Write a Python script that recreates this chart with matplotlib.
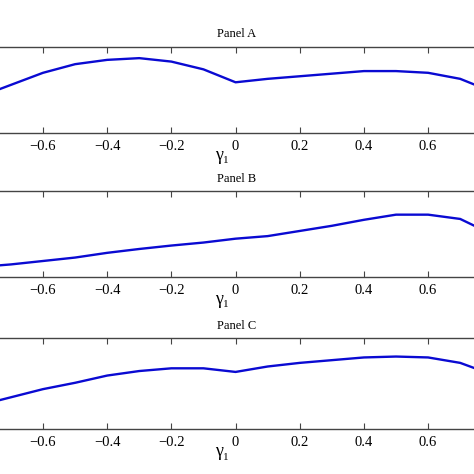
import matplotlib
matplotlib.use("Agg")
import matplotlib.pyplot as plt

gamma = [-0.8, -0.7, -0.6, -0.5, -0.4, -0.3, -0.2, -0.1, 0.0, 0.1, 0.2, 0.3, 0.4, 0.5, 0.6, 0.7, 0.8]
panel_a = [0.42, 0.56, 0.70, 0.80, 0.85, 0.87, 0.83, 0.74, 0.59, 0.63, 0.66, 0.69, 0.72, 0.72, 0.70, 0.63, 0.48]
panel_b = [0.12, 0.15, 0.19, 0.23, 0.285, 0.33, 0.37, 0.405, 0.45, 0.48, 0.54, 0.60, 0.67, 0.73, 0.73, 0.68, 0.50]
panel_c = [0.26, 0.35, 0.44, 0.51, 0.59, 0.64, 0.67, 0.67, 0.63, 0.69, 0.73, 0.76, 0.79, 0.80, 0.79, 0.73, 0.60]
titles = ["Panel A", "Panel B", "Panel C"]
xticks = [-0.6, -0.4, -0.2, 0, 0.2, 0.4, 0.6]
xticklabels = ["\u22120.6", "\u22120.4", "\u22120.2", "0", "0.2", "0.4", "0.6"]

plt.rcParams['font.family'] = ['Liberation Serif', 'DejaVu Serif']
fig = plt.figure(figsize=(4.74, 4.74), dpi=100)
boxes = [(0.719, 0.901), (0.415, 0.596), (0.095, 0.286)]
for (b, t), title, vals in zip(boxes, titles, [panel_a, panel_b, panel_c]):
    ax = fig.add_axes([0, b, 1, t - b])
    ax.plot(gamma, vals, color='#0a0ad2', lw=1.7)
    ax.set_xlim(-0.734, 0.743)
    ax.set_ylim(0, 1)
    ax.set_yticks([])
    ax.spines['left'].set_visible(False)
    ax.spines['right'].set_visible(False)
    for s in ['top', 'bottom']:
        ax.spines[s].set_color('#444444')
        ax.spines[s].set_linewidth(1.0)
    ax.set_xticks(xticks)
    ax.set_xticklabels(xticklabels, fontsize=10.5)
    ax.tick_params(axis='x', direction='in', top=True, length=4, color='#444444', pad=5)
    ax.set_title(title, fontsize=9, pad=7)
    tr = ax.get_xaxis_transform()
    ax.text(-0.04, -0.16, "\u03b3", transform=tr, ha='right', va='top', fontsize=13)
    ax.text(-0.04, -0.27, "1", transform=tr, ha='left', va='top', fontsize=8)
fig.savefig("out.png", dpi=100)
